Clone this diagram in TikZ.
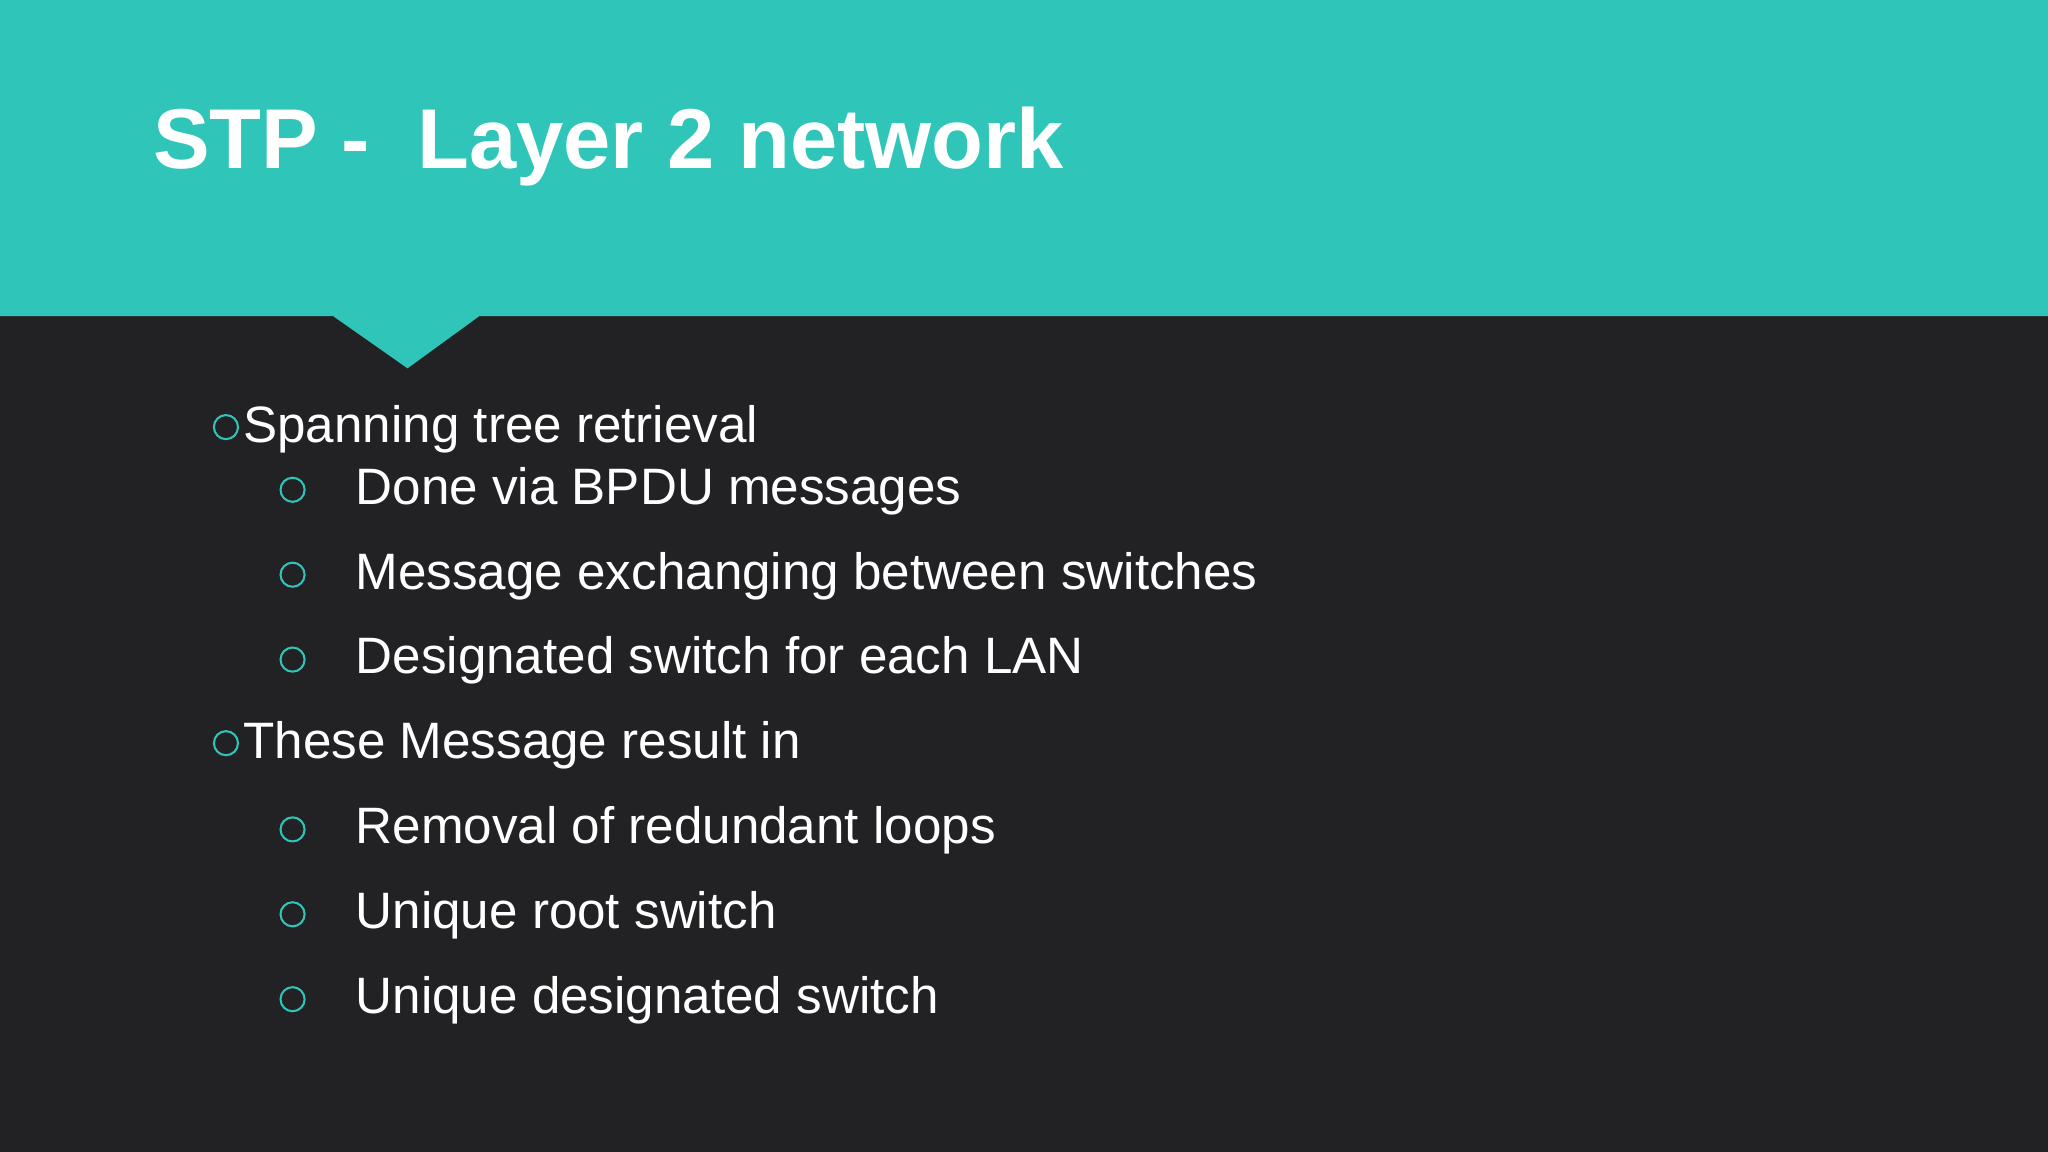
\documentclass[tikz,border=0pt]{standalone}
\usepackage{fontspec}
\setmainfont{Liberation Sans}
\definecolor{teal}{HTML}{30C5B9}
\definecolor{bg}{HTML}{222124}
\tikzset{
 lone/.style={anchor=base west,text=white,font=\fontsize{22.3}{27}\selectfont,inner sep=0pt},
 ltwo/.style={anchor=base west,text=white,font=\fontsize{22.3}{27}\selectfont,inner sep=0pt},
 bul/.style={circle,draw=teal,line width=0.9pt,minimum size=10.5pt,inner sep=0pt}
}
\begin{document}
\begin{tikzpicture}[x=0.02cm,y=-0.02cm]
\fill[bg] (0,0) rectangle (1568,882);
\useasboundingbox (0,0) rectangle (1568,882);
\fill[teal] (0,0) -- (1568,0) -- (1568,242) -- (367,242) -- (312,282) -- (255,242) -- (0,242) -- cycle;
\node[anchor=base west,text=white,font=\fontsize{37}{44}\selectfont\bfseries,inner sep=0pt] (title) at (117,129) {STP -\ \ Layer 2 network};
\node[bul] (b1) at (173,327) {};
\node[lone] (t1) at (186,339) {Spanning tree retrieval};
\node[bul] (b2) at (224,375) {};
\node[ltwo] (t2) at (272,386) {Done via BPDU messages};
\node[bul] (b3) at (224,440) {};
\node[ltwo] (t3) at (272,451) {Message exchanging between switches};
\node[bul] (b4) at (224,505) {};
\node[ltwo] (t4) at (272,516) {Designated switch for each LAN};
\node[bul] (b5) at (173,569) {};
\node[lone] (t5) at (186,581) {These Message result in};
\node[bul] (b6) at (224,635) {};
\node[ltwo] (t6) at (272,646) {Removal of redundant loops};
\node[bul] (b7) at (224,700) {};
\node[ltwo] (t7) at (272,711) {Unique root switch};
\node[bul] (b8) at (224,765) {};
\node[ltwo] (t8) at (272,776) {Unique designated switch};
\end{tikzpicture}
\end{document}
